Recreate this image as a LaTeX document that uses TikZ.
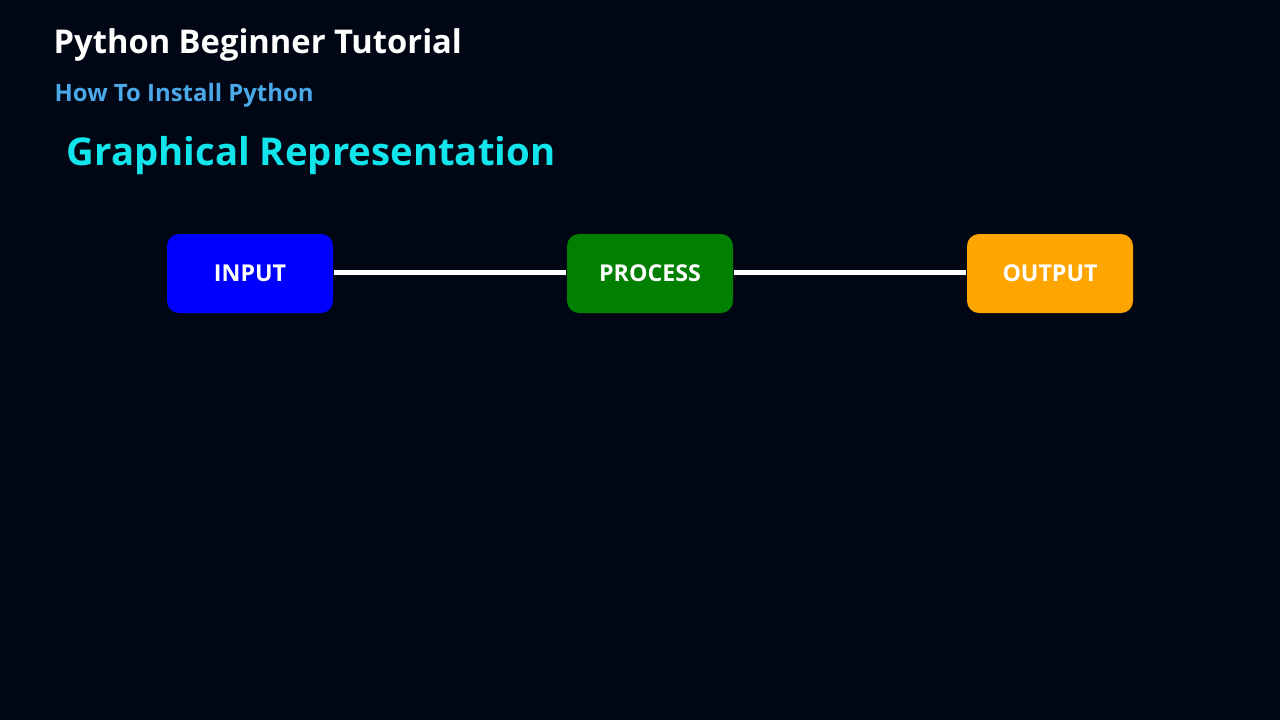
\documentclass[tikz,border=0pt]{standalone}
\usepackage{fontspec}
\setmainfont{Open Sans}
\definecolor{bg}{HTML}{010614}
\definecolor{sub}{HTML}{4AA8E8}
\definecolor{cy}{HTML}{12E4EC}
\definecolor{inb}{HTML}{0000FF}
\definecolor{prg}{HTML}{007F00}
\definecolor{outo}{HTML}{FFA500}
\begin{document}
\begin{tikzpicture}[x=0.01cm,y=-0.01cm,
  box/.style={rounded corners=0.12cm, draw=none, minimum width=166*0.01cm, minimum height=79*0.01cm, text=white, font=\fontsize{6.6pt}{8pt}\selectfont\bfseries, inner sep=0pt},
  link/.style={white, line width=5*0.01cm}]
\fill[bg] (0,0) rectangle (1280,720);
\useasboundingbox (0,0) rectangle (1280,720);
\node[anchor=west, text=white, font=\fontsize{9.3pt}{11pt}\selectfont\bfseries, inner sep=0pt] (t1) at (53,45) {Python Beginner Tutorial};
\node[anchor=west, text=sub, font=\fontsize{6.8pt}{8pt}\selectfont\bfseries, inner sep=0pt] (t2) at (54,95) {How To Install Python};
\node[anchor=west, text=cy, font=\fontsize{10.9pt}{13pt}\selectfont\bfseries, inner sep=0pt] (t3) at (66,156) {Graphical Representation};
\node[box, fill=inb] (in) at (250,273.5) {\raisebox{-0.05cm}{INPUT}};
\node[box, fill=prg] (pr) at (650,273.5) {\raisebox{-0.05cm}{PROCESS}};
\node[box, fill=outo] (out) at (1050,273.5) {\raisebox{-0.05cm}{OUTPUT}};
\draw[link] (in.east |- 0,272) -- (pr.west |- 0,272);
\draw[link] (pr.east |- 0,272) -- (out.west |- 0,272);
\end{tikzpicture}
\end{document}
